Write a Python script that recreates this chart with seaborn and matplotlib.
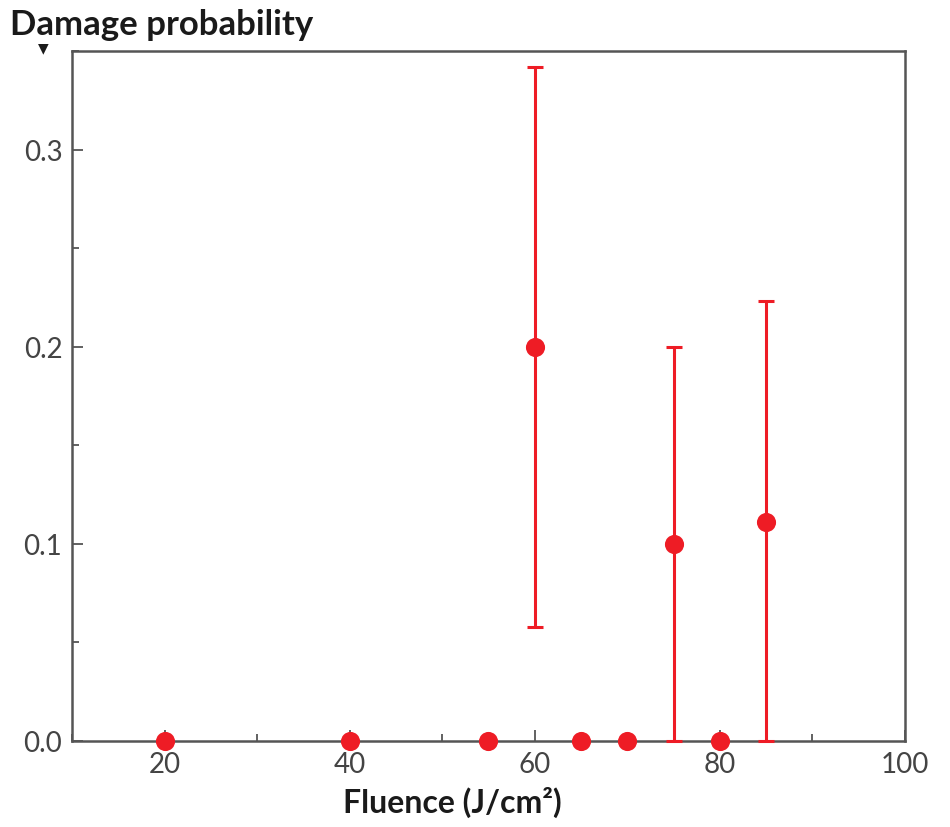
import matplotlib
matplotlib.use("Agg")
import matplotlib.pyplot as plt
import seaborn as sns
import numpy as np
import pandas as pd
from matplotlib.ticker import MultipleLocator

fluence = [20, 40, 55, 60, 65, 70, 75, 80, 85]
prob = [0.0, 0.0, 0.0, 0.2, 0.0, 0.0, 0.1, 0.0, 0.111]
err_low = [0.0, 0.0, 0.0, 0.058, 0.0, 0.0, 0.0, 0.0, 0.0]
err_high = [0.0, 0.0, 0.0, 0.342, 0.0, 0.0, 0.2, 0.0, 0.223]
x_ticks = [20, 40, 60, 80, 100]
y_ticks = [0.0, 0.1, 0.2, 0.3]

df = pd.DataFrame({"fluence": fluence, "prob": prob, "lo": err_low, "hi": err_high})

sns.set_theme(style="white")
plt.rcParams['font.family'] = ['Lato', 'DejaVu Sans']

red = "#ee1c25"
grey = "#555555"

fig = plt.figure(figsize=(9.5, 8.28), dpi=100)
ax = fig.add_axes([0.0758, 0.1039, 0.8768, 0.8331])

eb = df[df["hi"] > 0]
ax.errorbar(eb["fluence"], eb["prob"],
            yerr=[eb["prob"] - eb["lo"], eb["hi"] - eb["prob"]],
            fmt="none", ecolor=red, elinewidth=2.2, capsize=6, capthick=2.2,
            clip_on=False, zorder=3)
sns.scatterplot(data=df, x="fluence", y="prob", ax=ax, color=red, s=190,
                edgecolor=red, linewidth=0, clip_on=False, zorder=4, legend=False)

ax.set_xlim(10, 100)
ax.set_ylim(0, 0.35)
ax.set_xticks(x_ticks)
ax.set_xticklabels([str(t) for t in x_ticks])
ax.set_yticks(y_ticks)
ax.set_yticklabels([f"{t:.1f}" for t in y_ticks])
ax.xaxis.set_minor_locator(MultipleLocator(10))
ax.yaxis.set_minor_locator(MultipleLocator(0.05))

ax.tick_params(which="major", direction="in", length=8, width=1.3, color=grey,
               labelsize=20, labelcolor="#444444", pad=7,
               bottom=True, left=True, top=False, right=False)
ax.tick_params(which="minor", direction="in", length=5, width=1.3, color=grey,
               bottom=True, left=True, top=False, right=False)
for s in ax.spines.values():
    s.set_color(grey)
    s.set_linewidth(1.8)

ax.set_xlabel("Fluence (J/cm²)", fontsize=23, fontweight="bold", color="#1a1a1a")
ax.xaxis.set_label_coords(0.456, -0.065)
ax.set_ylabel("")
fig.text(0.011, 0.970, "Damage probability", fontsize=25, fontweight="bold",
         color="#1a1a1a", ha="left", va="center")
fig.text(0.046, 0.942, "▼", fontsize=10, color="#1a1a1a", ha="center", va="center",
         family=["DejaVu Sans"])

fig.savefig("out.png", dpi=100)
